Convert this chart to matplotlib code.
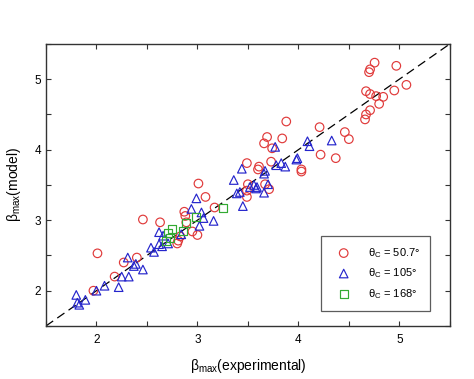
#!/usr/bin/env python3
"""
Model vs experimental beta_max scatter, grouped by contact angle.
"""

import matplotlib

matplotlib.use("Agg")

import matplotlib.pyplot as plt
from matplotlib.ticker import MultipleLocator

# ---------------------------------------------------------------------------
# Data
# ---------------------------------------------------------------------------

red_x = [4.755, 4.97, 4.71, 4.70, 4.67, 4.71, 4.77, 4.84, 4.95, 5.07, 4.80, 4.71, 4.67, 4.66,
         3.88, 4.21, 4.46, 4.50, 3.69, 3.66, 3.84, 3.74, 4.22, 4.37, 3.73, 3.49, 3.61, 3.60,
         4.03, 4.03, 3.50, 3.67, 3.71, 3.49, 3.49, 3.01, 3.08, 3.17, 2.87, 2.88, 2.89, 2.95,
         3.00, 2.83, 2.81, 2.80, 2.63, 2.46, 2.40, 2.27, 2.18, 1.97, 2.01]
red_y = [5.235, 5.19, 5.14, 5.10, 4.83, 4.79, 4.76, 4.75, 4.84, 4.92, 4.65, 4.56, 4.50, 4.43,
         4.40, 4.32, 4.25, 4.15, 4.18, 4.09, 4.16, 4.02, 3.93, 3.88, 3.83, 3.81, 3.76, 3.72,
         3.72, 3.69, 3.51, 3.51, 3.44, 3.42, 3.33, 3.52, 3.33, 3.18, 3.12, 3.06, 2.97, 2.84,
         2.79, 2.77, 2.71, 2.67, 2.97, 3.01, 2.47, 2.40, 2.20, 2.00, 2.53]

blue_x = [3.77, 4.09, 4.11, 4.33, 3.99, 3.98, 3.78, 3.83, 3.87, 3.66, 3.67, 3.44, 3.56, 3.58,
          3.70, 3.66, 3.42, 3.36, 3.39, 3.45, 3.52, 3.59, 2.99, 3.16, 2.94, 3.04, 3.06, 3.02,
          2.84, 2.62, 2.66, 2.62, 2.65, 2.71, 2.54, 2.57, 2.31, 2.37, 2.39, 2.46, 2.25, 2.32,
          2.22, 2.08, 2.00, 1.80, 1.89, 1.81, 1.83]
blue_y = [4.04, 4.12, 4.05, 4.13, 3.88, 3.86, 3.78, 3.81, 3.76, 3.66, 3.70, 3.73, 3.50, 3.45,
          3.51, 3.39, 3.40, 3.57, 3.38, 3.20, 3.47, 3.47, 3.31, 2.99, 3.16, 3.11, 3.03, 2.92,
          2.80, 2.83, 2.78, 2.66, 2.63, 2.67, 2.61, 2.55, 2.47, 2.35, 2.38, 2.30, 2.20, 2.20,
          2.05, 2.07, 2.00, 1.94, 1.87, 1.83, 1.80]

green_x = [3.25, 2.99, 2.89, 2.86, 2.75, 2.71, 2.73, 2.69]
green_y = [3.17, 3.05, 2.96, 2.85, 2.87, 2.82, 2.75, 2.70]

labels = [r"$\mathregular{\theta_C}$ = 50.7°",
          r"$\mathregular{\theta_C}$ = 105°",
          r"$\mathregular{\theta_C}$ = 168°"]

# ---------------------------------------------------------------------------
# Plotting
# ---------------------------------------------------------------------------

plt.rcParams["font.family"] = ["Liberation Sans", "DejaVu Sans"]
plt.rcParams["mathtext.fontset"] = "custom"
plt.rcParams["mathtext.rm"] = "Liberation Sans"
plt.rcParams["mathtext.it"] = "Liberation Sans"


def main() -> None:
    fig = plt.figure(figsize=(4.74, 3.79), dpi=100)
    ax = fig.add_axes([0.097, 0.140, 0.852, 0.744])

    ax.plot([1.5, 5.5], [1.5, 5.5], color="black", linewidth=0.9, dashes=(7, 4))

    ax.scatter(red_x, red_y, s=38, marker="o", facecolors="none",
               edgecolors="#e03a3a", linewidths=0.85, label=labels[0], zorder=3)
    ax.scatter(blue_x, blue_y, s=38, marker="^", facecolors="none",
               edgecolors="#2525cc", linewidths=0.85, label=labels[1], zorder=3)
    ax.scatter(green_x, green_y, s=32, marker="s", facecolors="none",
               edgecolors="#33aa33", linewidths=0.85, label=labels[2], zorder=3)

    ax.set_xlim(1.5, 5.5)
    ax.set_ylim(1.5, 5.5)
    ax.xaxis.set_major_locator(MultipleLocator(1))
    ax.yaxis.set_major_locator(MultipleLocator(1))
    ax.xaxis.set_minor_locator(MultipleLocator(0.5))
    ax.yaxis.set_minor_locator(MultipleLocator(0.5))
    ax.tick_params(which="both", direction="in", top=True, right=True,
                   length=3.5, width=0.8, labelsize=8.5, color="#333333")
    ax.tick_params(axis="x", pad=6)
    for spine in ax.spines.values():
        spine.set_color("#333333")
        spine.set_linewidth(1.0)

    ax.set_xlabel(r"$\mathregular{\beta_{max}}$(experimental)", fontsize=10, labelpad=8)
    ax.set_ylabel(r"$\mathregular{\beta_{max}}$(model)", fontsize=10, labelpad=8)

    leg = ax.legend(loc="lower right", bbox_to_anchor=(0.952, 0.054),
                    borderaxespad=0, fontsize=8, frameon=True, fancybox=False,
                    edgecolor="#333333", borderpad=0.9, handlelength=2.2,
                    handletextpad=1.1, labelspacing=0.6, scatterpoints=1)
    leg.get_frame().set_linewidth(0.9)

    fig.savefig("out.png", dpi=100)
    plt.close(fig)


if __name__ == "__main__":
    main()
